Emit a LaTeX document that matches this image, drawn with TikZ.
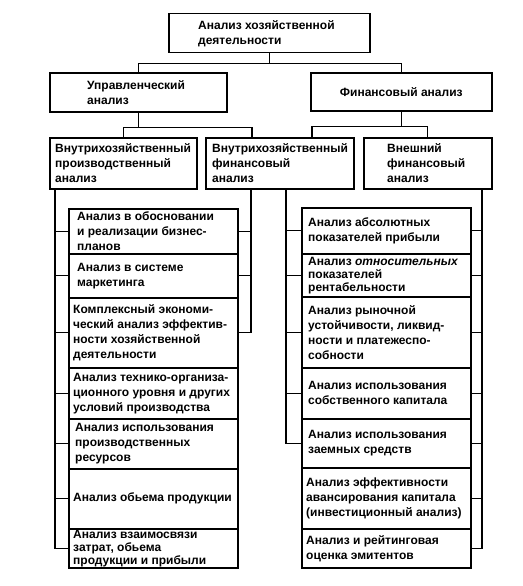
\documentclass[tikz,border=0pt]{standalone}
\usepackage{fontspec}
\setmainfont{Liberation Sans}
\begin{document}
\begin{tikzpicture}[x=1pt,y=-1pt,
  bx/.style={draw, line width=1.5pt, inner sep=0pt, anchor=north west},
  tx/.style={inner sep=0pt, anchor=west, align=left, font=\bfseries\fontsize{12}{15}\selectfont},
  txs/.style={tx, font=\bfseries\fontsize{12}{13}\selectfont},
  ln/.style={line width=1.1pt}]
\useasboundingbox (0,0) rectangle (522,586);

% level 1
\node[bx, minimum width=201pt, minimum height=39pt] (top) at (168,13) {};
\node[tx] (topt) at ([xshift=30pt]top.west) {Анализ хозяйственной\\деятельности};

% level 2
\node[bx, minimum width=177pt, minimum height=39pt] (upr) at (49,72) {};
\node[tx] (uprt) at ([xshift=38pt]upr.west) {Управленческий\\анализ};
\node[bx, minimum width=181pt, minimum height=38pt] (fin) at (310,72) {};
\node[tx, anchor=center] (fint) at (fin.center) {Финансовый анализ};

% level 3
\node[bx, minimum width=147pt, minimum height=51pt] (A) at (49,137) {};
\node[tx] (At) at ([xshift=6pt]A.west) {Внутрихозяйственный\\производственный\\анализ};
\node[bx, minimum width=148pt, minimum height=51pt] (B) at (205,137) {};
\node[tx] (Bt) at ([xshift=7pt]B.west) {Внутрихозяйственный\\финансовый\\анализ};
\node[bx, minimum width=128pt, minimum height=51pt] (C) at (363,137) {};
\node[tx] (Ct) at ([xshift=24pt]C.west) {Внешний\\финансовый\\анализ};

% left column
\node[bx, minimum width=169pt, minimum height=45pt] (L1) at (68,208) {};
\node[tx] (L1t) at ([xshift=9pt]L1.west) {Анализ в обосновании\\и реализации бизнес-\\планов};
\node[bx, minimum width=169pt, minimum height=44pt] (L2) at (68,253) {};
\node[tx] (L2t) at ([xshift=9pt]L2.west) {Анализ в системе\\маркетинга};
\node[bx, minimum width=169pt, minimum height=70pt] (L3) at (68,297) {};
\node[tx] (L3t) at ([xshift=5pt]L3.west) {Комплексный экономи-\\ческий анализ эффектив-\\ности хозяйственной\\деятельности};
\node[bx, minimum width=169pt, minimum height=51pt] (L4) at (68,367) {};
\node[tx] (L4t) at ([xshift=5pt]L4.west) {Анализ технико-организа-\\ционного уровня и других\\условий производства};
\node[bx, minimum width=169pt, minimum height=50pt] (L5) at (68,418) {};
\node[tx] (L5t) at ([xshift=7pt]L5.west) {Анализ использования\\производственных\\ресурсов};
\node[bx, minimum width=169pt, minimum height=60pt] (L6) at (68,468) {};
\node[tx] (L6t) at ([xshift=5pt]L6.west) {Анализ обьема продукции};
\node[bx, minimum width=169pt, minimum height=39pt] (L7) at (68,528) {};
\node[txs] (L7t) at ([xshift=5pt]L7.west) {Анализ взаимосвязи\\затрат, обьема\\продукции и прибыли};

% right column
\node[bx, minimum width=169pt, minimum height=46pt] (R1) at (301,207) {};
\node[tx] (R1t) at ([xshift=7pt]R1.west) {Анализ абсолютных\\показателей прибыли};
\node[bx, minimum width=169pt, minimum height=43pt] (R2) at (301,253) {};
\node[txs] (R2t) at ([xshift=7pt]R2.west) {Анализ \textit{относительных}\\показателей\\рентабельности};
\node[bx, minimum width=169pt, minimum height=71pt] (R3) at (301,296) {};
\node[tx] (R3t) at ([xshift=7pt]R3.west) {Анализ рыночной\\устойчивости, ликвид-\\ности и платежеспо-\\собности};
\node[bx, minimum width=169pt, minimum height=51pt] (R4) at (301,367) {};
\node[tx] (R4t) at ([xshift=7pt]R4.west) {Анализ использования\\собственного капитала};
\node[bx, minimum width=169pt, minimum height=49pt] (R5) at (301,418) {};
\node[tx] (R5t) at ([xshift=7pt]R5.west) {Анализ использования\\заемных средств};
\node[bx, minimum width=169pt, minimum height=61pt] (R6) at (301,467) {};
\node[tx] (R6t) at ([xshift=5pt]R6.west) {Анализ эффективности\\авансирования капитала\\(инвестиционный анализ)};
\node[bx, minimum width=169pt, minimum height=39pt] (R7) at (301,528) {};
\node[tx] (R7t) at ([xshift=5pt]R7.west) {Анализ и рейтинговая\\оценка эмитентов};

% connectors between levels
\draw[ln] (top.south) -- ++(0,10) coordinate (j1);
\draw[ln] (upr.north) |- (j1) -| (fin.north);
\draw[ln] (upr.south) -- ++(0,15) coordinate (j2);
\coordinate (bBl) at (252,137);
\draw[ln] (A.north) |- (j2) -| (bBl);
\draw[ln] (fin.south) -- ++(0,15) coordinate (j3);
\coordinate (bBr) at (312,137);
\draw[ln] (bBr) |- (j3) -| (C.north);

% brackets
\coordinate (aL) at (55,188);
\draw[ln] (aL) |- (L1.west) (aL) |- (L2.west) (aL) |- (L3.west) (aL) |- (L4.west)
          (aL) |- (L5.west) (aL) |- (L6.west) (aL) |- (L7.west);
\coordinate (bL) at (251,188);
\draw[ln] (bL) |- (L1.east) (bL) |- (L2.east) (bL) |- (L3.east);
\coordinate (bR) at (286,188);
\draw[ln] (bR) |- (R1.west) (bR) |- (R2.west) (bR) |- (R3.west) (bR) |- (R4.west)
          (bR) |- (R5.west);
\coordinate (cR) at (482,188);
\draw[ln] (cR) |- (R1.east) (cR) |- (R2.east) (cR) |- (R3.east) (cR) |- (R4.east)
          (cR) |- (R5.east) (cR) |- (R6.east) (cR) |- (R7.east);
\end{tikzpicture}
\end{document}
